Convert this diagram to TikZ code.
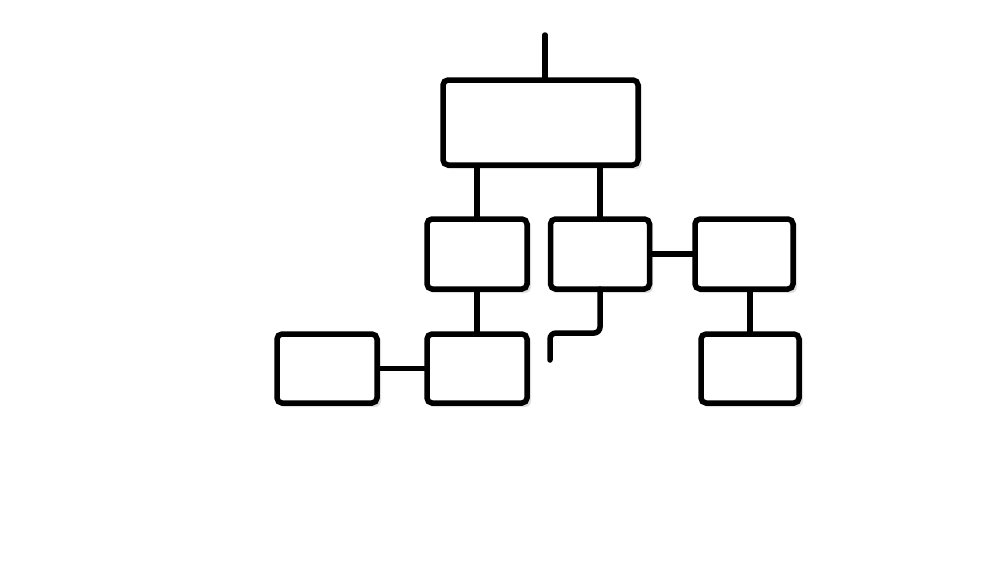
\documentclass[tikz,border=0pt]{standalone}
\begin{document}
\begin{tikzpicture}[x=1pt,y=-1pt,
  orgbox/.style={draw=black,fill=white,rectangle,rounded corners=5pt,line width=5.5pt,inner sep=0pt,outer sep=0pt},
  link/.style={draw=black,line width=5.5pt}]
\useasboundingbox[fill=white] (0,0) rectangle (1000,563);
% soft shadows
\foreach \xa/\ya/\xb/\yb in {443/80/638/165, 427/219/527/289, 550/219/649/289, 695/219/793/289, 277/334/377/403, 427/334/527/403, 701/334/799/403}
  \fill[black!12,rounded corners=6pt] (\xa+1,\ya+1) rectangle (\xb+4,\yb+4);
\node[orgbox,minimum width=195pt,minimum height=85pt] (top) at (540.5,122.5) {};
\node[orgbox,minimum width=100pt,minimum height=70pt] (A) at (477,254) {};
\node[orgbox,minimum width=99pt,minimum height=70pt] (D) at (600,254) {};
\node[orgbox,minimum width=98pt,minimum height=70pt] (E) at (744,254) {};
\node[orgbox,minimum width=100pt,minimum height=69pt] (C) at (327,368.5) {};
\node[orgbox,minimum width=100pt,minimum height=69pt] (B) at (477,368.5) {};
\node[orgbox,minimum width=98pt,minimum height=69pt] (F) at (750,368.5) {};
\coordinate (topin) at (545,35);
\coordinate (bendc) at (550,333);
\coordinate (dangle) at (550,360);
\draw[link,line cap=round] (topin) -- (topin |- top.north);
\draw[link] (A.north |- top.south) -- (A.north);
\draw[link] (D.north |- top.south) -- (D.north);
\draw[link] (A.south) -- (B.north);
\draw[link] (C.east) -- (B.west);
\draw[link] (D.east) -- (E.west);
\draw[link] (F.north |- E.south) -- (F.north);
\draw[link,line cap=round,rounded corners=6pt] (D.south) |- (bendc) -- (dangle);
\end{tikzpicture}
\end{document}
